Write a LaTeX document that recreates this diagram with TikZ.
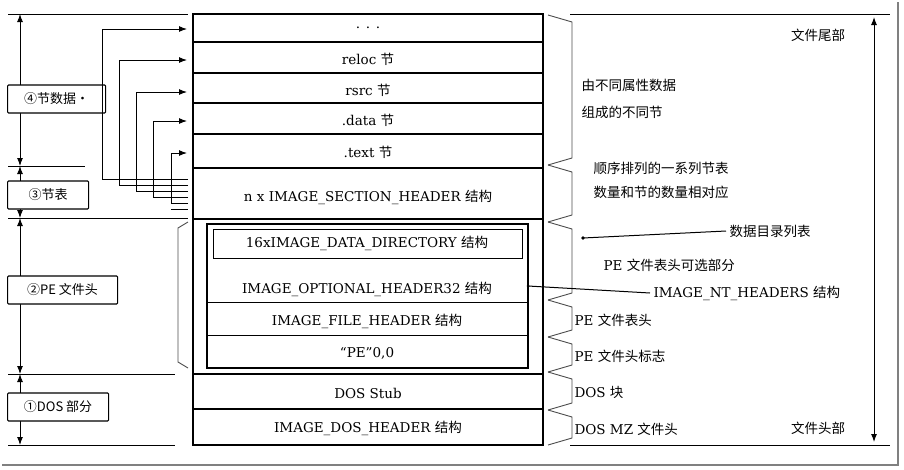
\documentclass[tikz,border=0pt]{standalone}
\usepackage{fontspec}
\setmainfont{DejaVu Serif}
\newfontfamily\cjk{Noto Sans CJK SC}
\usetikzlibrary{arrows.meta}
\begin{document}
\begin{tikzpicture}[x=1pt,y=-1pt,
  thk/.style={line width=2pt},
  thn/.style={line width=1pt},
  lbl/.style={font=\fontsize{13.5}{15}\selectfont},
  cj/.style={font=\cjk\fontsize{13.5}{15}\selectfont},
  lbox/.style={draw,line width=1.1pt,rounded corners=1pt,anchor=west,minimum height=28pt,inner xsep=4pt,font=\cjk\fontsize{13}{15}\selectfont},
  arr/.style={-{Latex[length=8pt,width=6pt]},line width=1pt},
  darr/.style={{Latex[length=8pt,width=6pt]}-{Latex[length=8pt,width=6pt]},line width=1pt},
  brc/.style={line width=0.9pt,gray!60!black}]
\useasboundingbox (0,0) rectangle (904,469);
% frame
\draw[gray,line width=1.5pt] (2,465) -- (898,465) -- (898,2);
% main box
\draw[thk] (193,14) rectangle (543,445);
\foreach \y in {42,73,103,134,168} \draw[thk] (193,\y) -- (543,\y);
\draw[thk] (193,219) -- (543,219);
\draw[thk] (193,374) -- (543,374);
\draw[thk] (193,409) -- (543,409);
\node[lbl] (r0) at (368,28) {. . .};
\node[lbl] (r1) at (368,59) {reloc {\cjk 节}};
\node[lbl] (r2) at (368,90) {rsrc {\cjk 节}};
\node[lbl] (r3) at (368,120) {.data {\cjk 节}};
\node[lbl] (r4) at (368,152) {.text {\cjk 节}};
\node[lbl] (sh) at (368,197) {n x IMAGE\_SECTION\_HEADER {\cjk 结构}};
% inner box
\draw[line width=1.5pt] (207,224) rectangle (528,368);
\draw[thn] (213,229) rectangle (522,258);
\draw[thn] (207,302) -- (528,302);
\draw[thn] (207,335) -- (528,335);
\node[lbl] (dd) at (367,243) {16xIMAGE\_DATA\_DIRECTORY {\cjk 结构}};
\node[lbl] (oh) at (367,289) {IMAGE\_OPTIONAL\_HEADER32 {\cjk 结构}};
\node[lbl] (fh) at (367,321) {IMAGE\_FILE\_HEADER {\cjk 结构}};
\node[lbl] (pe) at (367,353) {``PE''0,0};
\node[lbl] (ds) at (368,393) {DOS Stub};
\node[lbl] (dh) at (368,428) {IMAGE\_DOS\_HEADER {\cjk 结构}};
% left lines
\draw[thn] (8,14) -- (188,14);
\draw[thn] (8,166) -- (85,166);
\draw[thn] (8,218) -- (188,218);
\draw[thn] (8,374) -- (175,374);
\draw[thn] (8,445) -- (175,445);
\coordinate (a0) at (20,14); \coordinate (a1) at (20,166);
\coordinate (a2) at (20,218); \coordinate (a3) at (20,374); \coordinate (a4) at (20,445);
\draw[darr] (a0) -- (a1);
\draw[darr] (a1) -- (a2);
\draw[darr] (a2) -- (a3);
\draw[darr] (a3) -- (a4);
\node[lbox,fill=white,minimum width=98pt] (L4) at (7,99) {④节数据·};
\node[lbox,fill=white,minimum width=81pt] (L3) at (7,195) {③节表};
\node[lbox,fill=white,minimum width=110pt] (L2) at (7,290) {②PE 文件头};
\node[lbox,fill=white,minimum width=101pt] (L1) at (7,407) {①DOS 部分};
% section header pointers
\foreach \x/\yb/\yt/\n in {102/179/29/0,119/185/60/1,136/191/92/2,153/197/121/3,171/203/153/4}{
  \coordinate (t\n) at (187,\yt);
  \draw[arr] (188,\yb) -- (\x,\yb) -- (\x,\yt) -- (t\n);
}
\draw[thn] (171,209) -- (188,209);
% left brace for PE header
\draw[brc] (188,222) -- (178,228) -- (178,362) -- (188,368);
% right braces
\foreach \a/\b in {15/165,165/222,222/300,300/337,337/372,372/410,410/445}{
  \draw[brc] (548,\a) -- (572,\a+7) -- (572,\b-7) -- (548,\b);
}
\node[anchor=west,cj] (t1) at (578,85) {由不同属性数据};
\node[anchor=west,cj] (t2) at (578,112) {组成的不同节};
\node[anchor=west,cj] (t3) at (590,168) {顺序排列的一系列节表};
\node[anchor=west,cj] (t4) at (590,192) {数量和节的数量相对应};
\node[anchor=west,cj] (t5) at (726,231) {数据目录列表};
\node[anchor=west,lbl] (t6) at (600,265) {PE {\cjk 文件表头可选部分}};
\node[anchor=west,lbl] (t7) at (650,293) {IMAGE\_NT\_HEADERS {\cjk 结构}};
\node[anchor=west,lbl] (t8) at (571,320) {PE {\cjk 文件表头}};
\node[anchor=west,lbl] (t9) at (571,356) {PE {\cjk 文件头标志}};
\node[anchor=west,lbl] (t10) at (571,392) {DOS {\cjk 块}};
\node[anchor=west,lbl] (t11) at (571,429) {DOS MZ {\cjk 文件头}};
\node[cj] (tw) at (818,35) {文件尾部};
\node[cj] (th) at (818,428) {文件头部};
\coordinate (p1) at (583,238);
\fill (p1) circle (1.8pt);
\draw[thn] (p1) -- (t5.west);
\coordinate (p2) at (528,286);
\fill (p2) circle (1.5pt);
\draw[thn] (p2) -- (t7.west);
% right lines
\draw[thn] (570,14) -- (890,14);
\draw[thn] (570,445) -- (890,445);
\coordinate (rt) at (874,17); \coordinate (rb) at (874,442);
\draw[darr] (rt) -- (rb);
\end{tikzpicture}
\end{document}
